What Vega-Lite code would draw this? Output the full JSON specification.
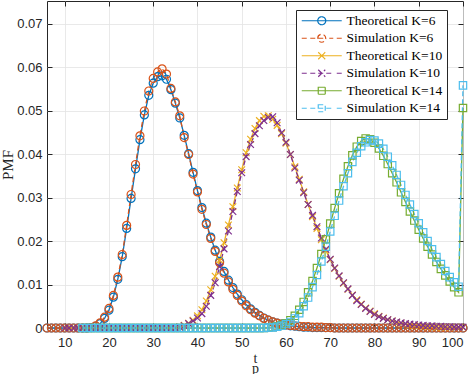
{
  "$schema": "https://vega.github.io/schema/vega-lite/v6.json",
  "width": 416,
  "height": 327,
  "autosize": "none",
  "padding": {"left": 47, "top": 1, "right": 11, "bottom": 46},
  "background": "white",
  "config": {
    "view": {"stroke": "#262626", "strokeWidth": 1},
    "axis": {"labelFont": "Liberation Sans", "labelFontSize": 13, "labelColor": "#262626", "titleFont": "Liberation Serif", "titleFontSize": 14, "titleFontWeight": "normal", "titleColor": "#262626", "tickColor": "#262626", "tickWidth": 1, "domain": false},
    "legend": {"labelFont": "Liberation Serif", "labelFontSize": 13.5, "labelColor": "black"}
  },
  "data": {"values": [
    {"s": "Theoretical K=6",
     "t": [6,7,8,9,10,11,12,13,14,15,16,17,18,19,20,21,22,23,24,25,26,27,28,29,30,31,32,33,34,35,36,37,38,39,40,41,42,43,44,45,46,47,48,49,50,51,52,53,54,55,56,57,58,59,60,61,62,63,64,65,66,67,68,69,70,71,72,73,74,75,76,77,78,79,80,81,82,83,84,85,86,87,88,89,90,91,92,93,94,95,96,97,98,99,100],
     "v": [0,0,0,0,0,0,0,0,0,0,0.0001,0.0004,0.001,0.0022,0.0041,0.0071,0.0112,0.0164,0.0229,0.0298,0.0366,0.0433,0.049,0.0535,0.0563,0.0578,0.058,0.0572,0.0548,0.0517,0.0483,0.0443,0.0401,0.0358,0.0316,0.0277,0.0241,0.0209,0.0179,0.0153,0.013,0.011,0.0093,0.0078,0.0065,0.0054,0.0044,0.0036,0.0029,0.0023,0.0018,0.0014,0.0011,0.0009,0.0007,0.0005,0.0004,0.0003,0.0002,0.0002,0.0001,0.0001,0.0001,0.0001,0.0001,0,0,0,0,0,0,0,0,0,0,0,0,0,0,0,0,0,0,0,0,0,0,0,0,0,0,0,0,0,0]},
    {"s": "Simulation K=6",
     "t": [6,7,8,9,10,11,12,13,14,15,16,17,18,19,20,21,22,23,24,25,26,27,28,29,30,31,32,33,34,35,36,37,38,39,40,41,42,43,44,45,46,47,48,49,50,51,52,53,54,55,56,57,58,59,60,61,62,63,64,65,66,67,68,69,70,71,72,73,74,75,76,77,78,79,80,81,82,83,84,85,86,87,88,89,90,91,92,93,94,95,96,97,98,99,100],
     "v": [0,0,0,0,0,0,0,0,0,0,0.0001,0.0005,0.0012,0.0025,0.0045,0.0075,0.0117,0.0169,0.0236,0.0307,0.0376,0.0442,0.0499,0.0545,0.0574,0.0589,0.0596,0.0584,0.0551,0.052,0.0488,0.0438,0.0399,0.0354,0.0313,0.0273,0.0238,0.0206,0.0176,0.015,0.0126,0.0106,0.0089,0.0075,0.0062,0.0051,0.0042,0.0034,0.0028,0.0022,0.0018,0.0014,0.0011,0.0009,0.0007,0.0006,0.0005,0.0004,0.0003,0.0003,0.0002,0.0002,0.0002,0.0001,0.0001,0,0,0,0,0,0,0,0,0,0,0,0,0,0,0,0,0,0,0,0,0,0,0,0,0,0,0,0,0,0]},
    {"s": "Theoretical K=10",
     "t": [10,11,12,13,14,15,16,17,18,19,20,21,22,23,24,25,26,27,28,29,30,31,32,33,34,35,36,37,38,39,40,41,42,43,44,45,46,47,48,49,50,51,52,53,54,55,56,57,58,59,60,61,62,63,64,65,66,67,68,69,70,71,72,73,74,75,76,77,78,79,80,81,82,83,84,85,86,87,88,89,90,91,92,93,94,95,96,97,98,99,100],
     "v": [0,0,0,0,0,0,0,0,0,0,0,0,0,0,0,0,0,0,0,0,0,0,0,0,0,0.0001,0.0003,0.0006,0.0011,0.0018,0.0028,0.0042,0.0062,0.0088,0.0119,0.0156,0.0196,0.0237,0.0279,0.0322,0.0364,0.0403,0.0434,0.0459,0.0477,0.0487,0.0488,0.048,0.0466,0.0447,0.0425,0.0399,0.0371,0.0342,0.0313,0.0284,0.0256,0.0229,0.0203,0.0179,0.0157,0.0137,0.0119,0.0103,0.0089,0.0076,0.0065,0.0055,0.0046,0.0039,0.0033,0.0027,0.0023,0.0019,0.0016,0.0013,0.0011,0.0009,0.0007,0.0006,0.0005,0.0004,0.0003,0.0003,0.0002,0.0002,0.0002,0.0001,0.0001,0.0001,0.0001]},
    {"s": "Simulation K=10",
     "t": [10,11,12,13,14,15,16,17,18,19,20,21,22,23,24,25,26,27,28,29,30,31,32,33,34,35,36,37,38,39,40,41,42,43,44,45,46,47,48,49,50,51,52,53,54,55,56,57,58,59,60,61,62,63,64,65,66,67,68,69,70,71,72,73,74,75,76,77,78,79,80,81,82,83,84,85,86,87,88,89,90,91,92,93,94,95,96,97,98,99,100],
     "v": [0,0,0,0,0,0,0,0,0,0,0,0,0,0,0,0,0,0,0,0,0,0,0,0,0,0,0.0002,0.0005,0.001,0.0016,0.0023,0.0033,0.005,0.0075,0.0104,0.0141,0.0182,0.0223,0.0268,0.0314,0.0357,0.0394,0.0422,0.0447,0.0465,0.0477,0.0484,0.0486,0.0472,0.0449,0.0427,0.0399,0.0368,0.034,0.0311,0.0284,0.0259,0.0233,0.0207,0.0181,0.0158,0.0138,0.012,0.0104,0.009,0.0075,0.0063,0.0054,0.0045,0.0038,0.0031,0.0026,0.0022,0.0019,0.0016,0.0014,0.0012,0.001,0.0009,0.0008,0.0007,0.0006,0.0005,0.0005,0.0004,0.0004,0.0003,0.0003,0.0002,0.0002,0.0002]},
    {"s": "Theoretical K=14",
     "t": [14,15,16,17,18,19,20,21,22,23,24,25,26,27,28,29,30,31,32,33,34,35,36,37,38,39,40,41,42,43,44,45,46,47,48,49,50,51,52,53,54,55,56,57,58,59,60,61,62,63,64,65,66,67,68,69,70,71,72,73,74,75,76,77,78,79,80,81,82,83,84,85,86,87,88,89,90,91,92,93,94,95,96,97,98,99,100],
     "v": [0,0,0,0,0,0,0,0,0,0,0,0,0,0,0,0,0,0,0,0,0,0,0,0,0,0,0,0,0,0,0,0,0,0,0,0,0,0,0,0,0,0,0.0001,0.0002,0.0004,0.0007,0.0011,0.0018,0.0028,0.0042,0.006,0.0082,0.0108,0.0138,0.017,0.0204,0.024,0.0276,0.031,0.0343,0.0372,0.0397,0.0417,0.043,0.0436,0.0434,0.0426,0.0413,0.0396,0.0377,0.0356,0.0335,0.0312,0.029,0.0268,0.0247,0.0226,0.0206,0.0187,0.0169,0.0152,0.0136,0.0121,0.0107,0.0094,0.0082,0.0506]},
    {"s": "Simulation K=14",
     "t": [14,15,16,17,18,19,20,21,22,23,24,25,26,27,28,29,30,31,32,33,34,35,36,37,38,39,40,41,42,43,44,45,46,47,48,49,50,51,52,53,54,55,56,57,58,59,60,61,62,63,64,65,66,67,68,69,70,71,72,73,74,75,76,77,78,79,80,81,82,83,84,85,86,87,88,89,90,91,92,93,94,95,96,97,98,99,100],
     "v": [0,0,0,0,0,0,0,0,0,0,0,0,0,0,0,0,0,0,0,0,0,0,0,0,0,0,0,0,0,0,0,0,0,0,0,0,0,0,0,0,0,0,0.0001,0.0001,0.0003,0.0005,0.0009,0.0014,0.0022,0.0034,0.005,0.007,0.0094,0.0122,0.0153,0.0187,0.0222,0.0258,0.0293,0.0326,0.0356,0.0382,0.0403,0.0418,0.0427,0.0432,0.0431,0.0424,0.0412,0.0394,0.0374,0.0352,0.0329,0.0306,0.0284,0.0262,0.0241,0.022,0.02,0.0181,0.0163,0.0147,0.0131,0.0117,0.0105,0.0095,0.0558]}
  ]},
  "transform": [{"flatten": ["t", "v"]}],
  "layer": [
    {
      "mark": {"type": "line", "strokeWidth": 1.3, "clip": false},
      "encoding": {
        "x": {"field": "t", "type": "quantitative", "scale": {"domain": [6, 100], "nice": false, "zero": false},
              "axis": {"orient": "bottom", "values": [10,20,30,40,50,60,70,80,90,100], "grid": true, "gridColor": "#e3e3e3", "gridWidth": 0.8, "tickSize": -5, "labelPadding": 13, "title": ["t\u00a0", "\u00a0\u00a0p"], "titleLineHeight": 10, "titlePadding": 2}},
        "y": {"field": "v", "type": "quantitative", "scale": {"domain": [0, 0.0752], "nice": false},
              "axis": {"orient": "left", "values": [0,0.01,0.02,0.03,0.04,0.05,0.06,0.07], "format": ".2~f", "grid": true, "gridColor": "#e3e3e3", "gridWidth": 0.8, "tickSize": -5, "labelPadding": 10, "title": "PMF", "titleFontSize": 15, "titlePadding": 1}},
        "color": {"field": "s", "type": "nominal",
                  "scale": {"domain": ["Theoretical K=6","Simulation K=6","Theoretical K=10","Simulation K=10","Theoretical K=14","Simulation K=14"],
                            "range": ["#0072BD","#D95319","#EDB120","#7E2F8E","#77AC30","#4DBEEE"]},
                  "legend": {"title": null, "orient": "none", "legendX": 249, "legendY": 9, "padding": 4, "fillColor": "white", "strokeColor": "#262626",
                             "labelFont": "Liberation Serif", "labelFontSize": 13.5, "labelColor": "black", "labelOffset": 33, "rowPadding": 2.5,
                             "symbolSize": 100, "symbolStrokeWidth": 1.2,
                             "encode": {"symbols": {"update": {
                               "shape": {"signal": "datum.value === 'Theoretical K=6' ? 'M-1,0L7,0M2.2,0A0.8,0.8 0 1,1 3.8,0A0.8,0.8 0 1,1 2.2,0' : datum.value === 'Simulation K=6' ? 'M-1,0L0,0M0.7,0L3.8,0M4.5,0L5.3,0M6,0L7,0M2.2,0A0.8,0.8 0 1,1 3.8,0A0.8,0.8 0 1,1 2.2,0' : datum.value === 'Theoretical K=10' ? 'M-1,0L7,0M2.3,-0.7L3.7,0.7M2.3,0.7L3.7,-0.7' : datum.value === 'Simulation K=10' ? 'M-1,0L0,0M0.7,0L5.3,0M6,0L7,0M2.3,-0.7L3.7,0.7M2.3,0.7L3.7,-0.7' : datum.value === 'Theoretical K=14' ? 'M-1,0L7,0M2.3,-0.7L3.7,-0.7L3.7,0.7L2.3,0.7Z' : 'M-1,0L0,0M0.7,0L5.3,0M6,0L7,0M2.3,-0.7L3.7,-0.7L3.7,0.7L2.3,0.7Z'"},
                               "size": {"value": 100},
                               "fill": {"value": "transparent"},
                               "stroke": {"scale": "color", "field": "value"},
                               "strokeDash": {"value": [1, 0]},
                               "strokeWidth": {"value": 1.2}
                             }}}}},
        "strokeDash": {"field": "s", "type": "nominal",
                       "scale": {"domain": ["Theoretical K=6","Simulation K=6","Theoretical K=10","Simulation K=10","Theoretical K=14","Simulation K=14"],
                                 "range": [[1,0],[5,3],[1,0],[5,3],[1,0],[5,3]]},
                       "legend": null}
      }
    },
    {
      "transform": [{"filter": {"field": "s", "oneOf": ["Theoretical K=6", "Simulation K=6"]}}],
      "mark": {"type": "point", "shape": "circle", "size": 64, "filled": false, "strokeWidth": 1.2, "clip": false, "opacity": 1},
      "encoding": {
        "x": {"field": "t", "type": "quantitative",
              "axis": {"orient": "top", "values": [10,20,30,40,50,60,70,80,90,100], "labels": false, "grid": false, "tickSize": -5, "title": null}},
        "y": {"field": "v", "type": "quantitative",
              "axis": {"orient": "right", "values": [0,0.01,0.02,0.03,0.04,0.05,0.06,0.07], "labels": false, "grid": false, "tickSize": -5, "title": null}},
        "color": {"field": "s", "type": "nominal"}
      }
    },
    {
      "transform": [{"filter": {"field": "s", "oneOf": ["Theoretical K=10", "Simulation K=10"]}}],
      "mark": {"type": "point", "shape": "M-1,-1L1,1M-1,1L1,-1", "size": 45, "filled": false, "strokeWidth": 1.2, "clip": false, "opacity": 1},
      "encoding": {
        "x": {"field": "t", "type": "quantitative", "axis": null},
        "y": {"field": "v", "type": "quantitative", "axis": null},
        "color": {"field": "s", "type": "nominal"}
      }
    },
    {
      "transform": [{"filter": {"field": "s", "oneOf": ["Theoretical K=14", "Simulation K=14"]}}],
      "mark": {"type": "point", "shape": "square", "size": 54, "filled": false, "strokeWidth": 1.2, "clip": false, "opacity": 1},
      "encoding": {
        "x": {"field": "t", "type": "quantitative", "axis": null},
        "y": {"field": "v", "type": "quantitative", "axis": null},
        "color": {"field": "s", "type": "nominal"}
      }
    }
  ],
  "resolve": {"axis": {"x": "independent", "y": "independent"}}
}
